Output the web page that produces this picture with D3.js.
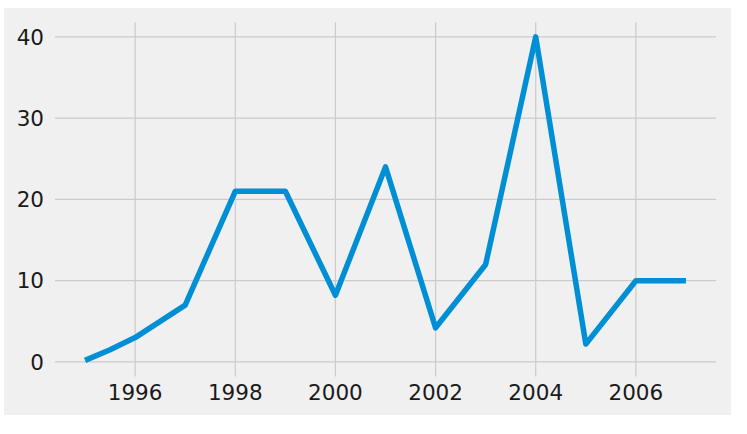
<!DOCTYPE html>
<html>
<head>
<meta charset="utf-8">
<script src="https://cdn.jsdelivr.net/npm/d3@7"></script>
<style>
    body { margin: 0; background: #ffffff; }
    text { font-family: "DejaVu Sans", sans-serif; }
</style>
</head>
<body>
<div id="main"></div>
<script>
var ctx = {
    w: 747,
    h: 434,
};

// data
var years = [1995, 1995.5, 1996, 1996.5, 1997, 1998, 1999, 2000, 2001, 2002, 2003, 2004, 2005, 2006, 2007];
var values = [0.2, 1.5, 3, 5, 7, 21, 21, 8.2, 24, 4.2, 12, 40, 2.2, 10, 10];
var xTicks = [1996, 1998, 2000, 2002, 2004, 2006];
var yTicks = [0, 10, 20, 30, 40];

var createViz = function () {
    var svg = d3.select("#main").append("svg")
        .attr("width", ctx.w)
        .attr("height", ctx.h);

    svg.append("rect")
        .attr("x", 4).attr("y", 8)
        .attr("width", 727).attr("height", 407)
        .attr("fill", "#f0f0f0");

    var x = d3.scaleLinear().domain([1994.4, 2007.6]).range([55, 716]);
    var y = d3.scaleLinear().domain([-1.8, 41.8]).range([376.6, 22.2]);

    // grid
    svg.append("g")
        .selectAll("line")
        .data(xTicks)
        .enter()
        .append("line")
        .attr("x1", d => x(d)).attr("x2", d => x(d))
        .attr("y1", y.range()[0]).attr("y2", y.range()[1])
        .attr("stroke", "#cbcbcb")
        .attr("stroke-width", 1.2);

    svg.append("g")
        .selectAll("line")
        .data(yTicks)
        .enter()
        .append("line")
        .attr("x1", x.range()[0]).attr("x2", x.range()[1])
        .attr("y1", d => y(d)).attr("y2", d => y(d))
        .attr("stroke", "#cbcbcb")
        .attr("stroke-width", 1.2);

    // tick labels
    svg.append("g")
        .selectAll("text")
        .data(yTicks)
        .enter()
        .append("text")
        .text(d => d)
        .attr("x", 44)
        .attr("y", d => y(d))
        .attr("dy", "0.36em")
        .attr("text-anchor", "end")
        .attr("font-size", 21.5)
        .attr("fill", "#1a1a1a");

    svg.append("g")
        .selectAll("text")
        .data(xTicks)
        .enter()
        .append("text")
        .text(d => d)
        .attr("x", d => x(d))
        .attr("y", 400)
        .attr("text-anchor", "middle")
        .attr("font-size", 21.5)
        .attr("fill", "#1a1a1a");

    // line
    var line = d3.line()
        .x((d, i) => x(years[i]))
        .y(d => y(d));

    svg.append("path")
        .datum(values)
        .attr("d", line)
        .attr("fill", "none")
        .attr("stroke", "#008fd5")
        .attr("stroke-width", 5.5)
        .attr("stroke-linejoin", "round")
        .attr("stroke-linecap", "butt");
};

createViz();
</script>
</body>
</html>
